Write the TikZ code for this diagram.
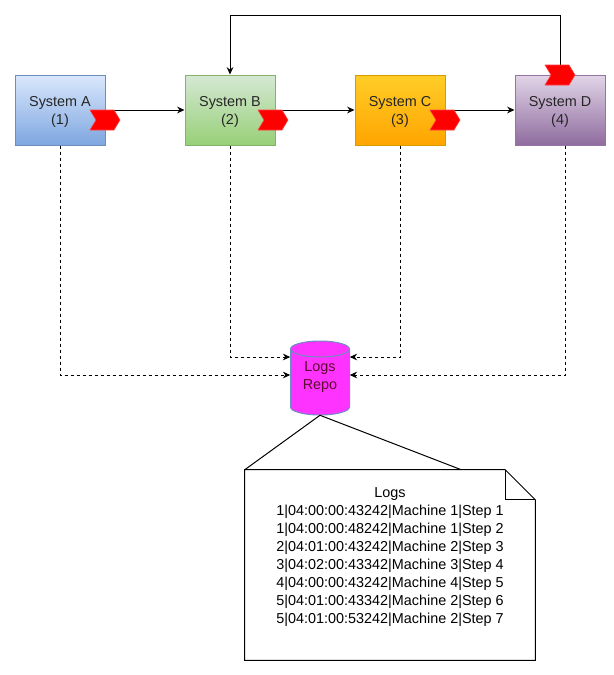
\documentclass[tikz,border=0pt]{standalone}
\usepackage{fontspec}
\setmainfont{Liberation Sans}
\usetikzlibrary{shapes.symbols,arrows.meta,calc}
\definecolor{blueT}{HTML}{DAE8FC}\definecolor{blueB}{HTML}{7EA6E0}\definecolor{blueD}{HTML}{6C8EBF}
\definecolor{greenT}{HTML}{D5E8D4}\definecolor{greenB}{HTML}{97D077}\definecolor{greenD}{HTML}{82B366}
\definecolor{orangeT}{HTML}{FFCD28}\definecolor{orangeB}{HTML}{FFA500}\definecolor{orangeD}{HTML}{D79B00}
\definecolor{purpleT}{HTML}{E1D5E7}\definecolor{purpleB}{HTML}{8F6C9F}\definecolor{purpleD}{HTML}{9673A6}
\definecolor{repoFill}{HTML}{FF33FF}\definecolor{repoText}{HTML}{5C0A2E}
\begin{document}
\begin{tikzpicture}[x=0.75pt,y=0.75pt,
  txt/.style={font=\fontsize{10.8pt}{13.5pt}\selectfont, align=center},
  sysbox/.style={draw, line width=0.75pt, minimum width=67.5pt, minimum height=52.5pt, inner sep=0pt},
  boxtext/.style={txt, text=black!85},
  chev/.style={signal, signal to=east, signal from=west, fill=red, draw=red!75, line width=0.4pt,
    minimum width=22.5pt, minimum height=15pt, inner sep=0pt, signal pointer angle=118},
  arr/.style={-{Stealth[length=5.5pt,width=5pt]}, line width=0.75pt},
  darr/.style={arr, dash pattern=on 2.25pt off 2.25pt},
  thin/.style={line width=0.75pt}
]
\path[use as bounding box, fill=white] (0,0) rectangle (614,-675);

% systems
\node[sysbox, top color=blueT, bottom color=blueB, draw=blueD] (A) at (60,-110) {};
\node[sysbox, top color=greenT, bottom color=greenB, draw=greenD] (B) at (230,-110) {};
\node[sysbox, top color=orangeT, bottom color=orangeB, draw=orangeD] (C) at (400,-110) {};
\node[sysbox, top color=purpleT, bottom color=purpleB, draw=purpleD] (D) at (560,-110) {};

% solid connectors
\draw[arr] (A.east) -- (B.west);
\draw[arr] (B.east) -- (C.west);
\draw[arr] (C.east) -- (D.west);
\coordinate (loop) at (230,-15);
\draw[arr] (D.north) |- (loop) -- (B.north);

% labels
\node[boxtext] (Alabel) at ($(A.center)+(0,-2)$) {System A\\(1)};
\node[boxtext] (Blabel) at ($(B.center)+(0,-2)$) {System B\\(2)};
\node[boxtext] (Clabel) at ($(C.center)+(0,-2)$) {System C\\(3)};
\node[boxtext] (Dlabel) at ($(D.center)+(0,-2)$) {System D\\(4)};

% chevrons
\node[chev] (chevA) at (105,-120) {};
\node[chev] (chevB) at (273,-120) {};
\node[chev] (chevC) at (445,-120) {};
\node[chev] (chevD) at (560,-75) {};

% repository cylinder
\node[minimum width=44.25pt, minimum height=56.25pt, inner sep=0pt] (repo) at (320,-377.5) {};
\filldraw[fill=repoFill, draw=blueD, line width=0.75pt]
  (290.5,-349) -- (290.5,-407) arc[start angle=180, end angle=360, x radius=22.125pt, y radius=6pt]
  -- (349.5,-349) arc[start angle=0, end angle=180, x radius=22.125pt, y radius=6pt] -- cycle;
\draw[draw=blueD, line width=0.75pt] (290.5,-349) arc[start angle=180, end angle=360, x radius=22.125pt, y radius=6pt];
\node[txt, text=repoText] (repolabel) at (repo.center) {Logs\\Repo};

% dashed connectors
\draw[darr] (A.south) |- ($(repo.west)+(0,2.5)$);
\draw[darr] (B.south) |- ($(repo.west)+(0,20.5)$);
\draw[darr] (C.south) |- ($(repo.east)+(0,20.5)$);
\draw[darr] ($(D.south)+(5,0)$) |- ($(repo.east)+(0,2.5)$);

% note
\node[minimum width=217.5pt, minimum height=142.5pt, inner sep=0pt] (note) at (390,-565) {};
\draw[thin] (repo.south) -- (note.north west);
\draw[thin] (repo.south) -- ($(note.north east)+(-74,0)$);
\filldraw[thin, fill=white] (note.north west) -- ($(note.north east)+(-30,0)$) -- ($(note.north east)+(0,-30)$)
  -- (note.south east) -- (note.south west) -- cycle;
\draw[thin] ($(note.north east)+(-30,0)$) -- ++(0,-30) -- ++(30,0);
\node[txt] (notetext) at (390,-557) {Logs\\
1|04:00:00:43242|Machine 1|Step 1\\
1|04:00:00:48242|Machine 1|Step 2\\
2|04:01:00:43242|Machine 2|Step 3\\
3|04:02:00:43342|Machine 3|Step 4\\
4|04:00:00:43242|Machine 4|Step 5\\
5|04:01:00:43342|Machine 2|Step 6\\
5|04:01:00:53242|Machine 2|Step 7};
\end{tikzpicture}
\end{document}
